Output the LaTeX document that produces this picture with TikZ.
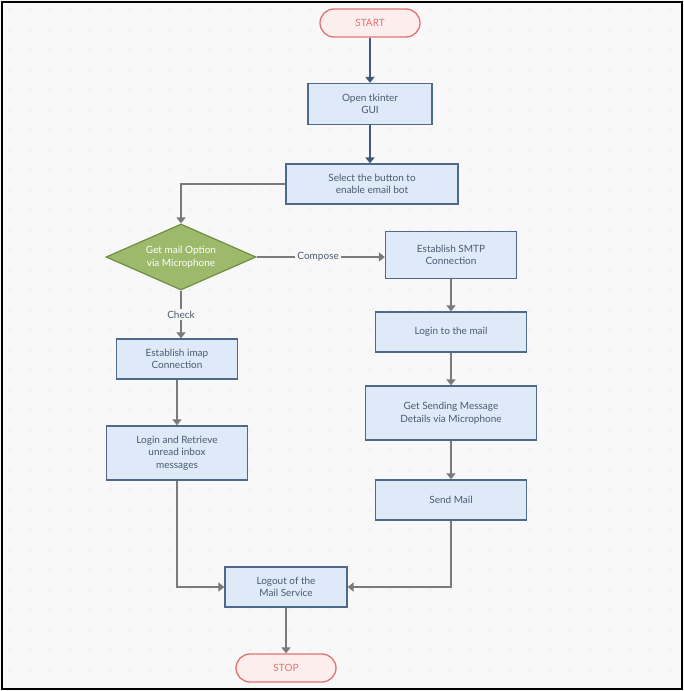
\documentclass[tikz,border=0pt]{standalone}
\usepackage{fontspec}
\setmainfont{Lato}
\usetikzlibrary{shapes.geometric,arrows.meta}
\definecolor{boxfill}{HTML}{DEEAF8}
\definecolor{boxdraw}{HTML}{4E6A88}
\definecolor{txt}{HTML}{4A5A72}
\definecolor{grn}{HTML}{9DBA6C}
\definecolor{grnd}{HTML}{6E8F40}
\definecolor{redf}{HTML}{FDEEEE}
\definecolor{redd}{HTML}{E07272}
\definecolor{darrow}{HTML}{3F5A80}
\definecolor{garrow}{HTML}{7A7A7A}
\definecolor{bg}{HTML}{F8F8F8}
\begin{document}
\begin{tikzpicture}[x=1pt,y=-1pt,
 box/.style={draw=boxdraw,line width=1.3pt,fill=boxfill,text=txt,font=\fontsize{10}{12.5}\selectfont,align=center,inner sep=0pt},
 term/.style={draw=redd,line width=1.3pt,fill=redf,text=redd,font=\fontsize{10}{12}\selectfont,rounded corners=14pt,minimum width=100pt,minimum height=28pt,inner sep=0pt},
 dec/.style={diamond,draw=grnd,line width=1.2pt,fill=grn,text=white,font=\fontsize{10}{12.5}\selectfont,align=center,aspect=2.27,minimum width=150pt,minimum height=66pt,inner sep=0pt},
 da/.style={draw=darrow,line width=1.6pt,-{Triangle[width=9pt,length=6pt]}},
 ga/.style={draw=garrow,line width=1.6pt,-{Triangle[width=9pt,length=6pt]}},
 lbl/.style={fill=bg,text=txt,font=\fontsize{10}{12}\selectfont,inner sep=2pt}]
\useasboundingbox (0,0) rectangle (684,691);
\fill[bg] (0,0) rectangle (684,691);
\foreach \i in {10,30,...,670} \foreach \j in {10,30,...,680} \fill[gray!40] (\i,\j) circle (0.6pt);
\draw[black,line width=2.5pt] (2,2) rectangle (682,689);
\node[term] (start) at (370,23) {START};
\node[box,minimum width=124pt,minimum height=41pt] (open) at (370,104) {Open tkinter\\GUI};
\node[box,minimum width=172pt,minimum height=40pt] (sel) at (372,184) {Select the button to\\enable email bot};
\node[dec] (d) at (181,257) {Get mail Option\\via Microphone};
\node[box,minimum width=131pt,minimum height=47pt] (smtp) at (451,255) {Establish SMTP\\Connection};
\node[box,minimum width=151pt,minimum height=40pt] (lm) at (451,332) {Login to the mail};
\node[box,minimum width=171pt,minimum height=54pt] (gs) at (451,413) {Get Sending Message\\Details via Microphone};
\node[box,minimum width=151pt,minimum height=40pt] (sm) at (451,500) {Send Mail};
\node[box,minimum width=121pt,minimum height=40pt] (imap) at (177,359) {Establish imap\\Connection};
\node[box,minimum width=141pt,minimum height=54pt] (lr) at (177,453) {Login and Retrieve\\unread inbox\\messages};
\node[box,minimum width=122pt,minimum height=40pt] (lo) at (286,587) {Logout of the\\Mail Service};
\node[term] (stop) at (286,668) {STOP};
\draw[da] (start) -- (open);
\draw[da] (open.south) -- (open.south |- sel.north);
\draw[ga] (sel.west) -| (d.north);
\draw[ga] (d.east) -- node[lbl,pos=0.48] {Compose} (d.east -| smtp.west);
\draw[ga] (d.south) -- node[lbl,pos=0.5] {Check} (d.south |- imap.north);
\draw[ga] (smtp) -- (lm);
\draw[ga] (lm) -- (gs);
\draw[ga] (gs) -- (sm);
\draw[ga] (imap) -- (imap |- lr.north);
\draw[ga] (lr.south) |- (lo.west);
\draw[ga] (sm.south) |- (lo.east);
\draw[ga] (lo) -- (stop);
\end{tikzpicture}
\end{document}
